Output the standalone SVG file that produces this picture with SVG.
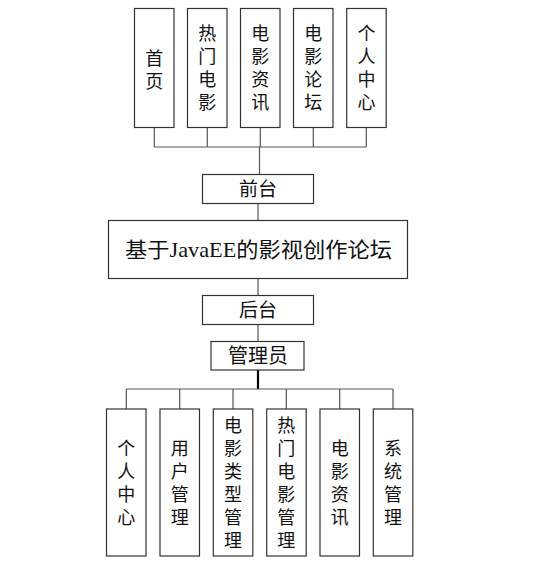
<svg xmlns="http://www.w3.org/2000/svg" width="534" height="567" viewBox="0 0 534 567">
<style>
.box{fill:#fff;stroke:#333;stroke-width:1.2}
.ln{fill:none;stroke:#555;stroke-width:1.2}
.v{font-family:"Liberation Serif","Noto Sans CJK SC",serif;font-size:18px;fill:#111;text-anchor:middle}
.h{font-family:"Liberation Serif","Noto Sans CJK SC",serif;font-size:19px;fill:#111;text-anchor:middle}
</style>
<rect width="534" height="567" fill="#fff"/>
<g id="connectors">
<path class="ln" d="M154.3 127.5V147M207.3 127.5V147M260.3 127.5V147M313.3 127.5V147M366.3 127.5V147M154.3 147H366.3M259.5 147V174.5"/>
<path class="ln" d="M258 203.5V220.5M258 278.5V295.5M258 324.5V341.5"/>
<path d="M258 370V389" stroke="#000" stroke-width="2.2" fill="none"/>
<path class="ln" d="M126.3 389H393M126.3 389V409M179.7 389V409M233 389V409M286.3 389V409M339.7 389V409M393 389V409"/>
</g>
<g id="n-shouye"><rect class="box" x="134.5" y="8.5" width="39.5" height="119"/><text class="v"><tspan x="154.3" y="65">首</tspan><tspan x="154.3" y="88">页</tspan></text></g>
<g id="n-remen"><rect class="box" x="187.5" y="8.5" width="39.5" height="119"/><text class="v"><tspan x="207.3" y="40">热</tspan><tspan x="207.3" y="63">门</tspan><tspan x="207.3" y="86">电</tspan><tspan x="207.3" y="109">影</tspan></text></g>
<g id="n-zixun"><rect class="box" x="240.5" y="8.5" width="39.5" height="119"/><text class="v"><tspan x="260.3" y="40">电</tspan><tspan x="260.3" y="63">影</tspan><tspan x="260.3" y="86">资</tspan><tspan x="260.3" y="109">讯</tspan></text></g>
<g id="n-luntan"><rect class="box" x="293.5" y="8.5" width="39.5" height="119"/><text class="v"><tspan x="313.3" y="40">电</tspan><tspan x="313.3" y="63">影</tspan><tspan x="313.3" y="86">论</tspan><tspan x="313.3" y="109">坛</tspan></text></g>
<g id="n-geren"><rect class="box" x="346.7" y="8.5" width="39.5" height="119"/><text class="v"><tspan x="366.4" y="40">个</tspan><tspan x="366.4" y="63">人</tspan><tspan x="366.4" y="86">中</tspan><tspan x="366.4" y="109">心</tspan></text></g>
<g id="n-qiantai"><rect class="box" x="202.5" y="174.5" width="111" height="29"/><text class="h" x="258" y="196">前台</text></g>
<g id="n-main"><rect class="box" x="108.5" y="220.5" width="299" height="58"/><text class="h" x="258.5" y="257" style="font-size:21px" textLength="267" lengthAdjust="spacingAndGlyphs">基于JavaEE的影视创作论坛</text></g>
<g id="n-houtai"><rect class="box" x="202.5" y="295.5" width="111" height="29"/><text class="h" x="258" y="317">后台</text></g>
<g id="n-admin"><rect class="box" x="211" y="341.5" width="93" height="28.5"/><text class="h" x="258" y="363" style="font-size:20px">管理员</text></g>
<g id="m-geren"><rect class="box" x="106.5" y="409" width="39.5" height="147"/><text class="v"><tspan x="126.3" y="455">个</tspan><tspan x="126.3" y="478">人</tspan><tspan x="126.3" y="501">中</tspan><tspan x="126.3" y="524">心</tspan></text></g>
<g id="m-yonghu"><rect class="box" x="160" y="409" width="39.5" height="147"/><text class="v"><tspan x="179.7" y="455">用</tspan><tspan x="179.7" y="478">户</tspan><tspan x="179.7" y="501">管</tspan><tspan x="179.7" y="524">理</tspan></text></g>
<g id="m-leixing"><rect class="box" x="213.3" y="409" width="39.5" height="147"/><text class="v"><tspan x="233" y="432">电</tspan><tspan x="233" y="455">影</tspan><tspan x="233" y="478">类</tspan><tspan x="233" y="501">型</tspan><tspan x="233" y="524">管</tspan><tspan x="233" y="547">理</tspan></text></g>
<g id="m-remen"><rect class="box" x="266.7" y="409" width="39.5" height="147"/><text class="v"><tspan x="286.3" y="432">热</tspan><tspan x="286.3" y="455">门</tspan><tspan x="286.3" y="478">电</tspan><tspan x="286.3" y="501">影</tspan><tspan x="286.3" y="524">管</tspan><tspan x="286.3" y="547">理</tspan></text></g>
<g id="m-zixun"><rect class="box" x="320" y="409" width="39.5" height="147"/><text class="v"><tspan x="339.7" y="455">电</tspan><tspan x="339.7" y="478">影</tspan><tspan x="339.7" y="501">资</tspan><tspan x="339.7" y="524">讯</tspan></text></g>
<g id="m-xitong"><rect class="box" x="373.3" y="409" width="39.5" height="147"/><text class="v"><tspan x="393" y="455">系</tspan><tspan x="393" y="478">统</tspan><tspan x="393" y="501">管</tspan><tspan x="393" y="524">理</tspan></text></g>
</svg>
